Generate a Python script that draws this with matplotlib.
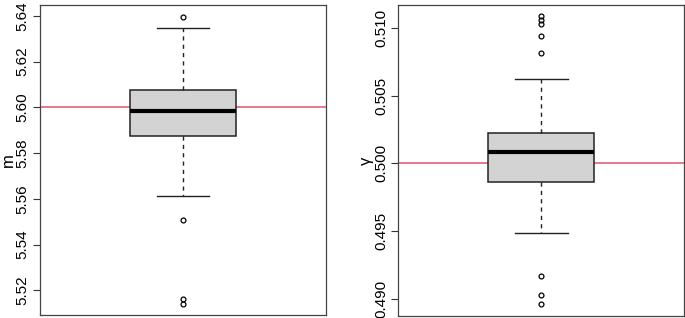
import matplotlib
matplotlib.use("Agg")
import matplotlib.pyplot as plt

plt.rcParams['font.family'] = ['Liberation Sans', 'DejaVu Sans']

# Panel 1: m
m_stats = dict(med=5.5984, q1=5.5873, q3=5.6076, whislo=5.5613, whishi=5.6348,
               fliers=[5.6393, 5.5507, 5.5162, 5.5140])
m_true = 5.60
m_ticks = [5.52, 5.54, 5.56, 5.58, 5.60, 5.62, 5.64]
m_ticklabels = ["5.52", "5.54", "5.56", "5.58", "5.60", "5.62", "5.64"]

# Panel 2: gamma
g_stats = dict(med=0.50083, q1=0.49864, q3=0.50226, whislo=0.49483, whishi=0.50623,
               fliers=[0.51088, 0.51058, 0.51029, 0.50939, 0.50817, 0.49168, 0.49025, 0.48958])
g_true = 0.500
g_ticks = [0.490, 0.495, 0.500, 0.505, 0.510]
g_ticklabels = ["0.490", "0.495", "0.500", "0.505", "0.510"]

fig = plt.figure(figsize=(6.85, 3.18), dpi=100)
ax1 = fig.add_axes([40/685, 3/318, 286/685, 310/318])
ax2 = fig.add_axes([398.3/685, 2/318, 286/685, 311/318])

def draw(ax, stats, true, ticks, labels, ylim, ylabel):
    ax.bxp([stats], positions=[1], widths=0.4, patch_artist=True,
           boxprops=dict(facecolor='#D3D3D3', edgecolor='#222222', linewidth=1.1),
           medianprops=dict(color='black', linewidth=3),
           whiskerprops=dict(color='#222222', linestyle=(0, (3, 3)), linewidth=1.0),
           capprops=dict(color='#222222', linewidth=1.0),
           capwidths=0.2,
           flierprops=dict(marker='o', markerfacecolor='none', markeredgecolor='black',
                           markersize=3.5, markeredgewidth=0.9))
    ax.axhline(true, color='#DF536B', linewidth=1.1, zorder=0.5)
    ax.set_xlim(0.46, 1.54)
    ax.set_ylim(*ylim)
    ax.set_xticks([])
    ax.set_yticks(ticks)
    ax.set_yticklabels(labels, rotation=90, va='center', fontsize=11)
    ax.tick_params(axis='y', length=5, width=0.8, color='#333333', pad=2.5)
    for s in ax.spines.values():
        s.set_color('#444444')
        s.set_linewidth(0.9)
    ax.set_ylabel(ylabel, fontsize=12, labelpad=0)

draw(ax1, m_stats, m_true, m_ticks, m_ticklabels, (5.5092, 5.6447), 'm')
draw(ax2, g_stats, g_true, g_ticks, g_ticklabels, (0.48872, 0.5117), 'γ')

fig.savefig('out.png', dpi=100)
